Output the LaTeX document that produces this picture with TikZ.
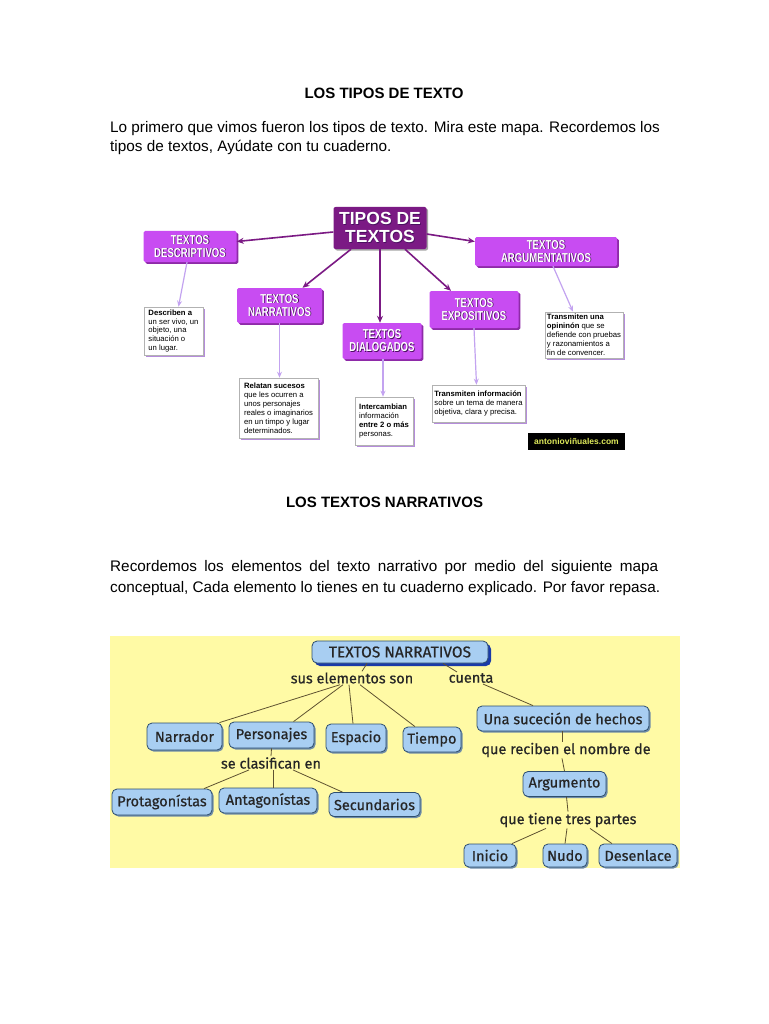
\documentclass[tikz,border=0pt]{standalone}
\usepackage{fontspec}
\setmainfont{Liberation Sans}
\newfontfamily\narrowf[FakeStretch=0.74]{Liberation Sans}
\newfontfamily\comicf[FakeBold=0.6]{Fira Sans}
\usetikzlibrary{arrows.meta,shadows}
\definecolor{dpurple}{HTML}{7B1A84}
\definecolor{mag}{HTML}{C84CF2}
\definecolor{magdark}{HTML}{8E2AA8}
\definecolor{txtshadow}{HTML}{4A1060}
\definecolor{lav}{HTML}{C3A3F0}
\definecolor{lavshadow}{HTML}{B58CDB}
\definecolor{antgreen}{HTML}{DDE85A}
\definecolor{bfill}{HTML}{A8CEF2}
\definecolor{bdraw}{HTML}{2E4E6E}
\definecolor{bshadow}{HTML}{6F8CA8}
\definecolor{bmainshadow}{HTML}{1A3AA8}
\definecolor{ybg}{HTML}{FFFAA5}
\definecolor{bline}{HTML}{5E5230}
\newcommand\shadtxt[1]{\leavevmode\rlap{\kern0.8pt\raisebox{-0.8pt}{\textcolor{txtshadow}{#1}}}#1}
\tikzset{
  mainbox/.style={fill=dpurple, text=white, rounded corners=2pt,
    font=\bfseries\fontsize{17.5}{18}\selectfont, align=center, inner sep=0pt,
    minimum width=93, minimum height=42,
    drop shadow={shadow xshift=1.5pt, shadow yshift=-1.5pt, fill=black, opacity=0.35}},
  typebox/.style={fill=mag, text=white, rounded corners=1.5pt,
    font=\narrowf\bfseries\fontsize{13}{13}\selectfont, align=center, inner sep=0pt,
    drop shadow={shadow xshift=1.8pt, shadow yshift=-1.8pt, fill=magdark, opacity=1}},
  infobox/.style={draw=gray!60, line width=0.6pt, fill=white,
    font=\fontsize{7.7}{8.9}\selectfont, align=left, inner xsep=3pt, inner ysep=2pt,
    drop shadow={shadow xshift=2pt, shadow yshift=-2pt, fill=lavshadow, opacity=1}},
  darrow/.style={-{Stealth[length=7pt,width=6pt]}, draw=dpurple, line width=1.6pt},
  larrow/.style={-{Stealth[length=6pt,width=5pt]}, draw=lav, line width=1.2pt},
  bnode/.style={fill=bfill, draw=bdraw, line width=0.8pt, rounded corners=5pt,
    font=\comicf\fontsize{14.5}{15}\selectfont, text=black!85, inner sep=0pt,
    drop shadow={shadow xshift=1.5pt, shadow yshift=-1.5pt, fill=bshadow, opacity=1}},
  blabel/.style={font=\comicf\fontsize{14.5}{15}\selectfont, text=black!85, inner sep=1pt},
  bconn/.style={draw=bline, line width=0.8pt},
  bodytext/.style={font=\fontsize{15.3}{19}\selectfont, inner sep=0pt, anchor=base west},
  titletext/.style={font=\bfseries\fontsize{15}{18}\selectfont, inner sep=0pt, anchor=base}
}
\begin{document}
\begin{tikzpicture}[x=1pt,y=-1pt]
\useasboundingbox (0,0) rectangle (768,1024);
\fill[white] (0,0) rectangle (768,1024);

% ---------- text ----------
\node[titletext] (title1) at (384,99) {LOS TIPOS DE TEXTO};
\node[bodytext] (p1a) at (110,133) {Lo primero que vimos fueron los tipos de texto. Mira este mapa. Recordemos los};
\node[bodytext] (p1b) at (110,152) {tipos de textos, Ayúdate con tu cuaderno.};
\node[titletext] (title2) at (384.5,507) {LOS TEXTOS NARRATIVOS};
\node[bodytext] (p2a) at (110,571) {\makebox[548pt][s]{Recordemos los elementos del texto narrativo por medio del siguiente mapa}};
\node[bodytext] (p2b) at (110,592) {conceptual, Cada elemento lo tienes en tu cuaderno explicado. Por favor repasa.};

% ---------- top map ----------
\node[mainbox] (tipos) at (380,228) {\shadtxt{TIPOS DE}\\\shadtxt{TEXTOS}};
\node[typebox, minimum width=93, minimum height=31] (desc) at (190,246.5) {\shadtxt{TEXTOS}\\\shadtxt{DESCRIPTIVOS}};
\node[typebox, minimum width=142, minimum height=29] (argu) at (546,251.5) {\shadtxt{TEXTOS}\\\shadtxt{ARGUMENTATIVOS}};
\node[typebox, minimum width=85, minimum height=35] (narr) at (279.5,305.5) {\shadtxt{TEXTOS}\\\shadtxt{NARRATIVOS}};
\node[typebox, minimum width=79, minimum height=36] (dial) at (382,341) {\shadtxt{TEXTOS}\\\shadtxt{DIALOGADOS}};
\node[typebox, minimum width=89, minimum height=37] (expo) at (474,309.5) {\shadtxt{TEXTOS}\\\shadtxt{EXPOSITIVOS}};

\node[infobox, minimum width=59, minimum height=48] (idesc) at (173.5,331) {\textbf{Describen a}\\un ser vivo, un\\objeto, una\\situación o\\un lugar.};
\node[infobox, minimum width=79, minimum height=60] (inarr) at (278.5,408) {\textbf{Relatan sucesos}\\que les ocurren a\\unos personajes\\reales o imaginarios\\en un timpo y lugar\\determinados.};
\node[infobox, minimum width=58, minimum height=48] (idial) at (384,421) {\textbf{Intercambian}\\información\\\textbf{entre 2 o más}\\personas.};
\node[infobox, minimum width=93, minimum height=37, inner xsep=2pt] (iexpo) at (478.5,403.5) {\textbf{Transmiten información}\\sobre un tema de manera\\objetiva, clara y precisa.};
\node[infobox, minimum width=78, minimum height=46, inner xsep=2pt] (iargu) at (584,335) {\textbf{Transmiten una}\\\textbf{opininón} que se\\defiende con pruebas\\y razonamientos a\\fin de convencer.};

\node[fill=black, text=antgreen, font=\bfseries\fontsize{8.5}{9}\selectfont, minimum width=97, minimum height=17, inner sep=0pt] (anto) at (576.5,441.5) {antonioviñuales.com};

\draw[darrow] ([yshift=-4pt]tipos.west) -- ([yshift=5pt]desc.east);
\draw[darrow] ([yshift=-6pt]tipos.east) -- ([yshift=10pt]argu.west);
\draw[darrow] ([xshift=-29pt]tipos.south) -- ([xshift=23pt]narr.north);
\draw[darrow] (tipos.south) -- (tipos.south |- dial.north);
\draw[darrow] ([xshift=25pt]tipos.south) -- ([xshift=-23pt]expo.north);

\draw[larrow] ([xshift=-3pt]desc.south) -- ([xshift=5pt]idesc.north);
\draw[larrow] (narr.south) -- (narr.south |- inarr.north);
\draw[larrow] ([xshift=1pt]dial.south) -- ([xshift=-1pt]idial.north);
\draw[larrow] (expo.south) -- ([xshift=-2pt]iexpo.north);
\draw[larrow] ([xshift=7pt]argu.south) -- ([xshift=-11pt]iargu.north);

% ---------- bottom map ----------
\fill[ybg] (110,636) rectangle (680,868);

\node[bnode, minimum width=176, minimum height=22, font=\comicf\fontsize{15.5}{16}\selectfont,
  drop shadow={shadow xshift=3pt, shadow yshift=-3pt, fill=bmainshadow, opacity=1}] (bmain) at (400,652) {TEXTOS NARRATIVOS};
\node[blabel] (sus) at (352,678) {sus elementos son};
\node[blabel] (cuenta) at (471,678) {cuenta};
\node[bnode, minimum width=75, minimum height=27] (nar) at (184.5,736.5) {Narrador};
\node[bnode, minimum width=85, minimum height=26] (pers) at (271.5,735) {Personajes};
\node[bnode, minimum width=60, minimum height=28] (esp) at (356,738) {Espacio};
\node[bnode, minimum width=58, minimum height=25] (tiem) at (432,739.5) {Tiempo};
\node[bnode, minimum width=172, minimum height=25] (una) at (563,718.5) {Una suceción de hechos};
\node[blabel] (recib) at (566,750) {que reciben el nombre de};
\node[blabel] (clasif) at (271,763) {se clasifican en};
\node[bnode, minimum width=100, minimum height=26] (prot) at (162,802) {Protagonístas};
\node[bnode, minimum width=98, minimum height=25] (ant) at (268,800.5) {Antagonístas};
\node[bnode, minimum width=91, minimum height=24] (sec) at (374.5,804.5) {Secundarios};
\node[bnode, minimum width=83, minimum height=25] (argum) at (564.5,784) {Argumento};
\node[blabel] (tiene) at (568,820) {que tiene tres partes};
\node[bnode, minimum width=52, minimum height=23] (ini) at (490,855.5) {Inicio};
\node[bnode, minimum width=44, minimum height=23] (nudo) at (565,855.5) {Nudo};
\node[bnode, minimum width=78, minimum height=23] (des) at (638,855.5) {Desenlace};

\draw[bconn] ([xshift=-33pt]bmain.south) -- ([xshift=10pt]sus.north);
\draw[bconn] ([xshift=43pt]bmain.south) -- ([xshift=-14pt]cuenta.north);
\draw[bconn] ([xshift=-12pt]sus.south) -- ([xshift=-3pt]nar.north east);
\draw[bconn] ([xshift=-9pt]sus.south) -- ([xshift=22pt]pers.north);
\draw[bconn] ([xshift=-3pt]sus.south) -- ([xshift=-3pt]esp.north);
\draw[bconn] ([xshift=8pt]sus.south) -- ([xshift=-17pt]tiem.north);
\draw[bconn] ([xshift=12pt]cuenta.south) -- ([xshift=-30pt]una.north);
\draw[bconn] ([xshift=-1pt]una.south) -- ([xshift=-4pt]recib.north);
\draw[bconn] ([xshift=-4pt]recib.south) -- (argum.north);
\draw[bconn] ([xshift=2pt]argum.south) -- (tiene.north);
\draw[bconn] ([xshift=-22pt]tiene.south) -- ([xshift=22pt]ini.north);
\draw[bconn] ([xshift=-1pt]tiene.south) -- (nudo.north);
\draw[bconn] ([xshift=22pt]tiene.south) -- ([xshift=-26pt]des.north);
\draw[bconn] (pers.south) -- (clasif.north);
\draw[bconn] ([xshift=-22pt]clasif.south) -- ([xshift=42pt]prot.north);
\draw[bconn] ([xshift=2pt]clasif.south) -- ([xshift=5pt]ant.north);
\draw[bconn] ([xshift=22pt]clasif.south) -- ([xshift=-32pt]sec.north);
\end{tikzpicture}
\end{document}
